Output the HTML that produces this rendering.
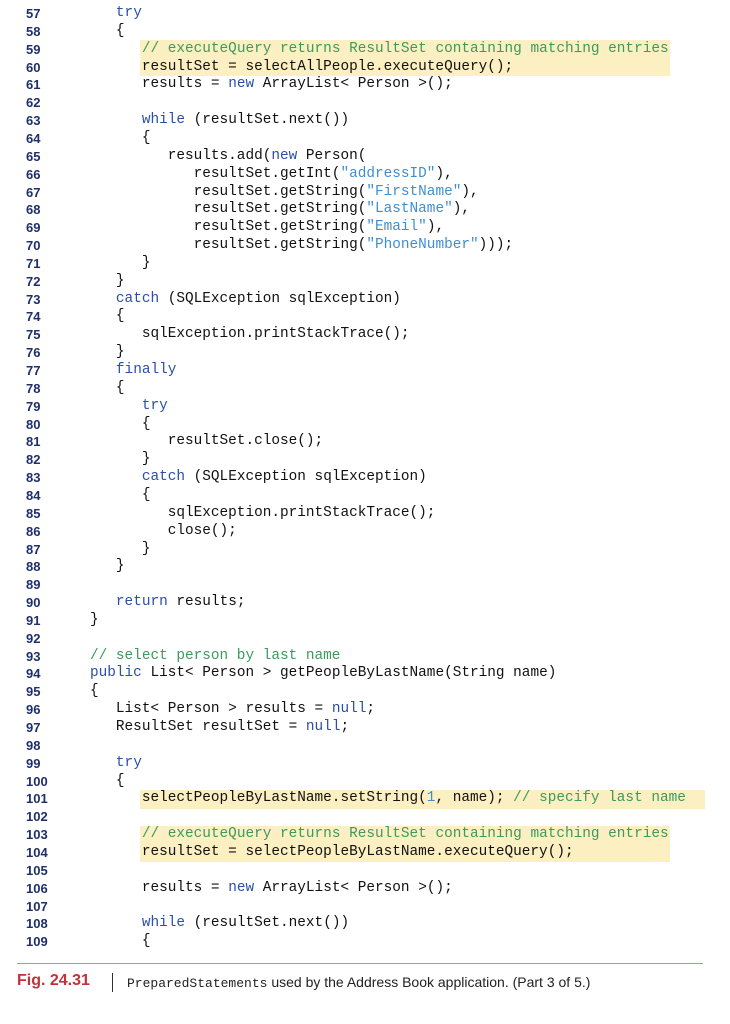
<!DOCTYPE html>
<html><head><meta charset="utf-8"><style>
html,body{margin:0;padding:0;background:#fff;width:730px;height:1024px;overflow:hidden;position:relative}
.ln{position:absolute;left:26px;font:bold 13px "Liberation Sans",sans-serif;color:#1f2f6b;height:17.85px;line-height:17.85px}
.c{position:absolute;left:90px;font:14.4px "Liberation Mono",monospace;color:#111;white-space:pre;height:17.85px;line-height:17.85px}
.k{color:#2a4fa8}.g{color:#3d9a5c}.s{color:#3d8fd3}
.hl{position:absolute;background:#fcefc2}
</style></head><body>
<div class="hl" style="left:140px;top:40px;width:530px;height:36px"></div>
<div class="hl" style="left:140px;top:790px;width:565px;height:19px"></div>
<div class="hl" style="left:140px;top:826px;width:530px;height:36px"></div>
<div id="w"></div>
<script>
var L=[
"   <span class=k>try</span>",
"   {",
"      <span class=g>// executeQuery returns ResultSet containing matching entries</span>",
"      resultSet = selectAllPeople.executeQuery();",
"      results = <span class=k>new</span> ArrayList&lt; Person &gt;();",
"",
"      <span class=k>while</span> (resultSet.next())",
"      {",
"         results.add(<span class=k>new</span> Person(",
"            resultSet.getInt(<span class=s>\"addressID\"</span>),",
"            resultSet.getString(<span class=s>\"FirstName\"</span>),",
"            resultSet.getString(<span class=s>\"LastName\"</span>),",
"            resultSet.getString(<span class=s>\"Email\"</span>),",
"            resultSet.getString(<span class=s>\"PhoneNumber\"</span>)));",
"      }",
"   }",
"   <span class=k>catch</span> (SQLException sqlException)",
"   {",
"      sqlException.printStackTrace();",
"   }",
"   <span class=k>finally</span>",
"   {",
"      <span class=k>try</span>",
"      {",
"         resultSet.close();",
"      }",
"      <span class=k>catch</span> (SQLException sqlException)",
"      {",
"         sqlException.printStackTrace();",
"         close();",
"      }",
"   }",
"",
"   <span class=k>return</span> results;",
"}",
"",
"<span class=g>// select person by last name</span>",
"<span class=k>public</span> List&lt; Person &gt; getPeopleByLastName(String name)",
"{",
"   List&lt; Person &gt; results = <span class=k>null</span>;",
"   ResultSet resultSet = <span class=k>null</span>;",
"",
"   <span class=k>try</span>",
"   {",
"      selectPeopleByLastName.setString(<span class=s>1</span>, name); <span class=g>// specify last name</span>",
"",
"      <span class=g>// executeQuery returns ResultSet containing matching entries</span>",
"      resultSet = selectPeopleByLastName.executeQuery();",
"",
"      results = <span class=k>new</span> ArrayList&lt; Person &gt;();",
"",
"      <span class=k>while</span> (resultSet.next())",
"      {"];
var h="";
for(var i=0;i<L.length;i++){var t=(5+i*17.85).toFixed(2);
h+='<div class="ln" style="top:'+t+'px">'+(57+i)+'</div><div class="c" style="top:'+t+'px">'+L[i]+'</div>';}
document.getElementById('w').innerHTML=h;
</script>
<div style="position:absolute;left:17px;top:963px;width:686px;height:1px;background:#d9868a"></div>
<div style="position:absolute;left:17px;top:972px;font:bold 16px 'Liberation Sans',sans-serif;color:#c0333a">Fig. 24.31</div>
<div style="position:absolute;left:112px;top:973px;width:1px;height:19px;background:#333"></div>
<div style="position:absolute;left:127px;top:974px;font:14px 'Liberation Sans',sans-serif;color:#222;white-space:nowrap"><span style="font-family:'Liberation Mono',monospace;font-size:13px">PreparedStatements</span> used by the Address Book application. (Part 3 of 5.)</div>
</body></html>
